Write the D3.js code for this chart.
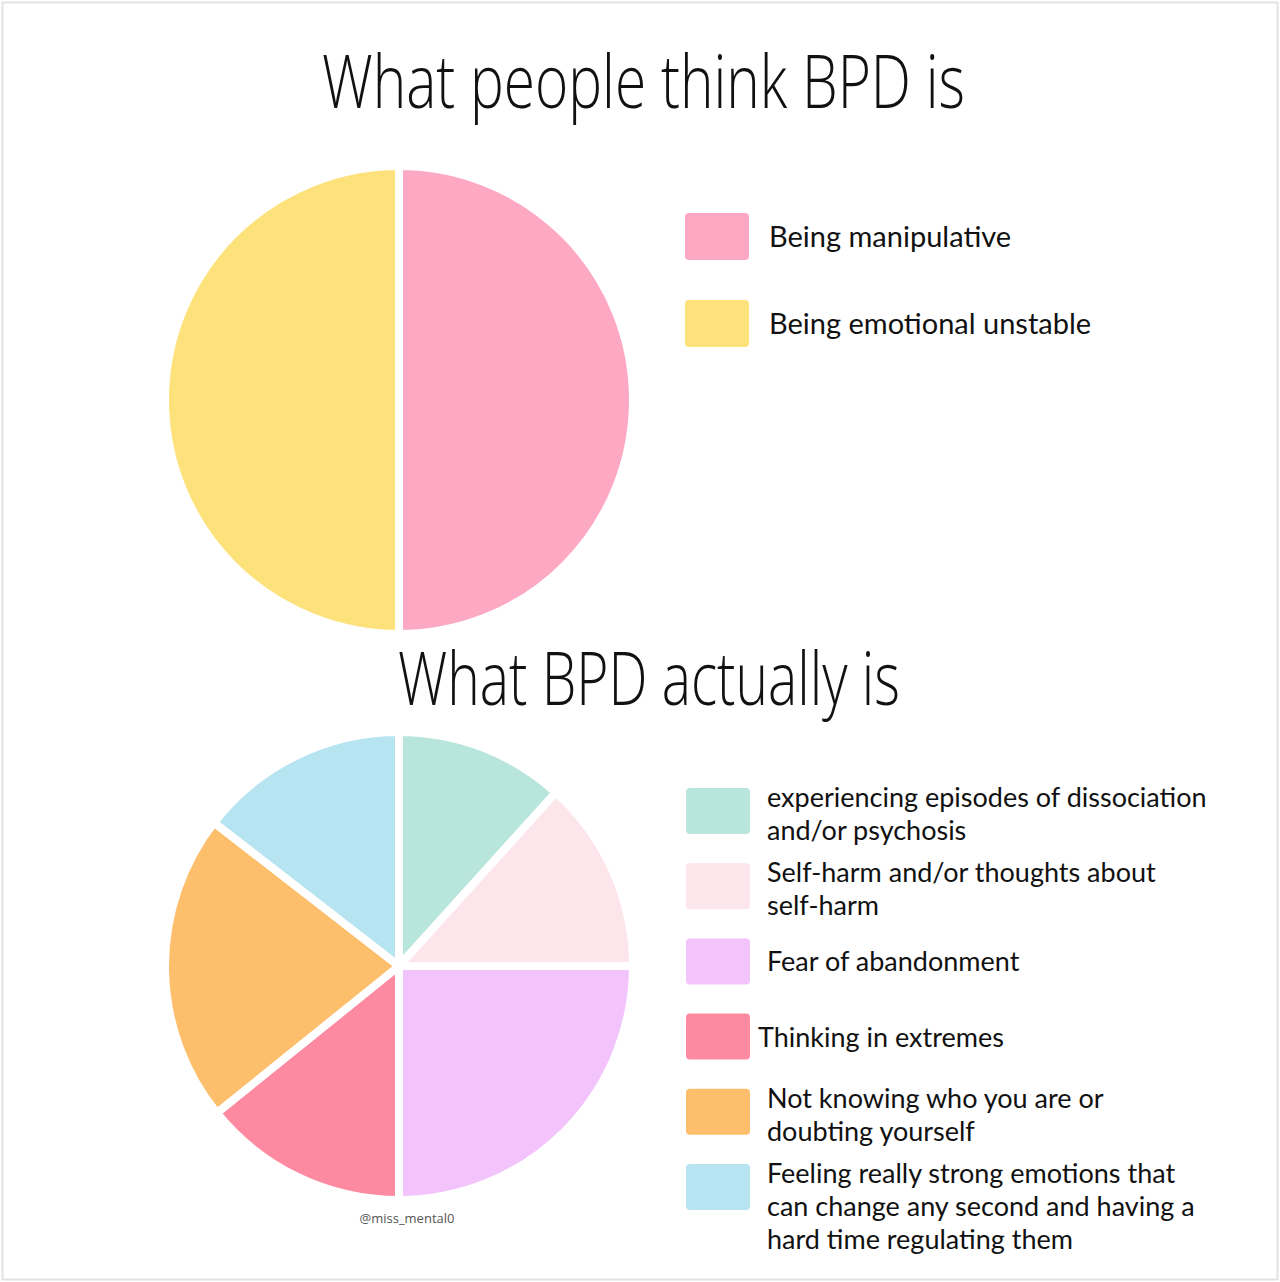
<!DOCTYPE html>
<html>
<head>
<meta charset="utf-8">
<script src="https://cdn.jsdelivr.net/npm/d3@7"></script>
<style>
  html, body { margin: 0; padding: 0; background: #fff; }
  svg { display: block; }
  text { font-family: "Open Sans", "DejaVu Sans", sans-serif; fill: #111; }
  .legend text { font-family: Lato, "Open Sans", sans-serif; }
</style>
</head>
<body>
<div class="chart-holder"></div>
<script>
// chart data
var titles = ["What people think BPD is", "What BPD actually is"];

var thinkLabels = ["Being manipulative", "Being emotional unstable"];
var thinkValues = [50, 50];
var thinkColors = ["#fda9c3", "#fde17b"];

var actualLabels = [
  ["experiencing episodes of dissociation", "and/or psychosis"],
  ["Self-harm and/or thoughts about", "self-harm"],
  ["Fear of abandonment"],
  ["Thinking in extremes"],
  ["Not knowing who you are or", "doubting yourself"],
  ["Feeling really strong emotions that", "can change any second and having a", "hard time regulating them"]
];
var actualValues = [11.7, 13.3, 25, 14.2, 21.3, 14.5];
var actualColors = ["#b9e6dc", "#fde5ec", "#f3c3fb", "#fe8aa2", "#fdbf6c", "#b7e4f1"];

var credit = "@miss_mental0";

var width = 1280, height = 1282;

var svg = d3.select(".chart-holder")
    .append("svg")
    .attr("width", width)
    .attr("height", height);

// light frame around the card
svg.append("rect")
    .attr("x", 2.5).attr("y", 2.5)
    .attr("width", width - 5).attr("height", height - 5)
    .attr("fill", "#fff")
    .attr("stroke", "#e2e2e2")
    .attr("stroke-width", 2);

var pie = d3.pie().sort(null).value(function(d) { return d; });
var arc = d3.arc().innerRadius(0).outerRadius(234);

function drawPie(cx, cy, values, colors) {
  var g = svg.append("g").attr("transform", "translate(" + cx + "," + cy + ")");
  g.selectAll("path")
      .data(pie(values))
    .enter().append("path")
      .attr("d", arc)
      .attr("fill", function(d, i) { return colors[i]; })
      .attr("stroke", "#fff")
      .attr("stroke-width", 8)
      .attr("stroke-linejoin", "round");
}

function drawTitle(text, x, y, len) {
  svg.append("text")
      .attr("x", x).attr("y", y)
      .attr("textLength", len)
      .attr("lengthAdjust", "spacingAndGlyphs")
      .style("font-size", "74px")
      .style("font-weight", 300)
      .text(text);
}

drawTitle(titles[0], 322, 108, 643);
drawTitle(titles[1], 398, 705, 502);

drawPie(399, 400, thinkValues, thinkColors);
drawPie(399, 966, actualValues, actualColors);

// top legend
var yTop = d3.scalePoint().domain(thinkLabels).range([213, 300]);
var topLegend = svg.append("g").attr("class", "legend");
thinkLabels.forEach(function(lbl, i) {
  topLegend.append("rect")
      .attr("x", 685).attr("y", yTop(lbl))
      .attr("width", 64).attr("height", 47)
      .attr("rx", 4)
      .attr("fill", thinkColors[i]);
  topLegend.append("text")
      .attr("x", 769).attr("y", yTop(lbl) + 34)
      .style("font-size", "29px")
      .text(lbl);
});

// bottom legend
var yBot = d3.scalePoint().domain(d3.range(actualLabels.length)).range([788, 1164]);
var botLegend = svg.append("g").attr("class", "legend");
actualLabels.forEach(function(lines, i) {
  var top = yBot(i);
  var tx = i === 3 ? 758 : 767;
  var ty = lines.length > 1 ? top + 19 : top + 33;
  botLegend.append("rect")
      .attr("x", 686).attr("y", top)
      .attr("width", 64).attr("height", 46)
      .attr("rx", 4)
      .attr("fill", actualColors[i]);
  lines.forEach(function(l, j) {
    botLegend.append("text")
        .attr("x", tx)
        .attr("y", ty + j * 33)
        .style("font-size", "27px")
        .text(l);
  });
});

svg.append("text")
    .attr("x", 407).attr("y", 1223)
    .attr("text-anchor", "middle")
    .style("font-size", "13px")
    .style("fill", "#555")
    .text(credit);
</script>
</body>
</html>
